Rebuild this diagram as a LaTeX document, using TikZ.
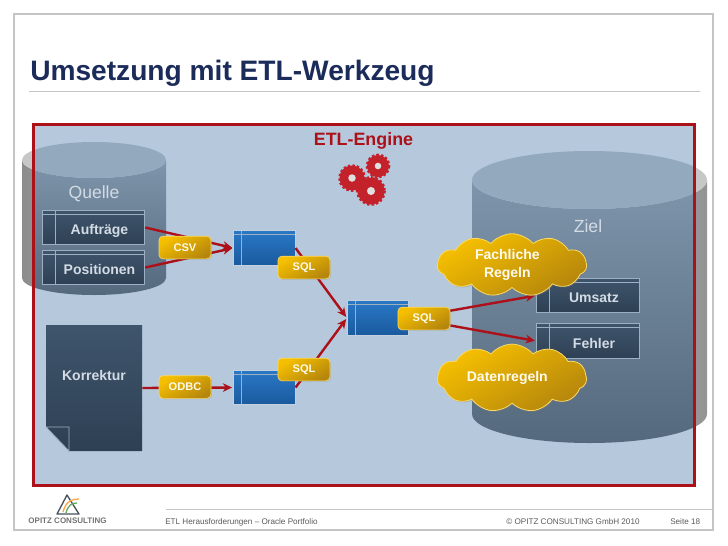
\documentclass[tikz,border=0pt]{standalone}
\usepackage{fontspec}
\setmainfont{Liberation Sans}
\usetikzlibrary{arrows.meta,positioning,shadows,shapes.symbols}
\definecolor{navy}{HTML}{1C2C5A}
\definecolor{rulegray}{HTML}{C4C4C4}
\definecolor{panelblue}{HTML}{B5C8DC}
\definecolor{enginered}{HTML}{AC1019}
\definecolor{gearred}{HTML}{C4222A}
\definecolor{sidetop}{HTML}{7E95AB}
\definecolor{sidebottom}{HTML}{55697D}
\definecolor{lidblue}{HTML}{93A9BD}
\definecolor{tabletop}{HTML}{3F556C}
\definecolor{tablebottom}{HTML}{2E4053}
\definecolor{tableline}{HTML}{9DB0C3}
\definecolor{tabletext}{HTML}{D3DBE5}
\definecolor{bluetop}{HTML}{2A78C6}
\definecolor{bluebottom}{HTML}{1A5A9E}
\definecolor{goldtop}{HTML}{F6C000}
\definecolor{goldbottom}{HTML}{B5860C}
\newcommand{\tablelabel}[1]{\hspace*{9pt}\raisebox{-5.6pt}[0pt][0pt]{#1}}
\newcommand{\quellepath}{(22,160) -- (22,278) arc[start angle=180,end angle=0,x radius=72,y radius=17] -- (166,160) arc[start angle=0,end angle=180,x radius=72,y radius=18] -- cycle}
\newcommand{\zielpath}{(472,180) -- (472,414) arc[start angle=180,end angle=0,x radius=117.5,y radius=29] -- (707,180) arc[start angle=0,end angle=180,x radius=117.5,y radius=29] -- cycle}
\tikzset{
	tablelines/.style={path picture={
		\draw[tableline,line width=.6pt] ([yshift=-3pt]path picture bounding box.north west) -- ([yshift=-3pt]path picture bounding box.north east);
		\draw[tableline,line width=.6pt] ([xshift=#1]path picture bounding box.north west) -- ([xshift=#1]path picture bounding box.south west);
	}},
	darktable/.style={draw=tableline,line width=.6pt,top color=tabletop,bottom color=tablebottom,minimum width=77pt,minimum height=26pt,inner sep=0pt,text=tabletext,font=\fontsize{10.5}{12}\selectfont\bfseries,tablelines=9.75pt},
	bluetable/.style={draw=tableline!60!white,line width=.6pt,top color=bluetop,bottom color=bluebottom,minimum width=46pt,minimum height=26pt,inner sep=0pt,tablelines=5.8pt},
	badge/.style={draw=goldtop!60!white,line width=.5pt,rounded corners=3pt,top color=goldtop,bottom color=goldbottom,shading angle=30,minimum width=39pt,minimum height=17pt,inner sep=0pt,text=white!92!goldtop,font=\fontsize{8.3}{10}\selectfont\bfseries,drop shadow={shadow xshift=.6pt,shadow yshift=-.6pt,opacity=.35}},
	rulecloud/.style={cloud,cloud puffs=11,cloud puff arc=100,aspect=2.4,draw=goldtop!60!white,line width=.6pt,top color=goldtop,bottom color=goldbottom,shading angle=30,minimum width=112pt,minimum height=47pt,inner sep=0pt,align=center,text=white!94!goldtop,font=\fontsize{10.5}{13}\selectfont\bfseries,drop shadow={shadow xshift=.8pt,shadow yshift=-.8pt,opacity=.35}},
	flow/.style={draw=enginered,line width=1.8pt,-{Stealth[length=7pt,width=6.5pt]},shorten >=1pt},
	dbname/.style={text=tabletext,font=\fontsize{13.2}{15}\selectfont},
	footer/.style={text=black!65,anchor=base west,inner sep=0pt,font=\fontsize{6.1}{7}\selectfont}
}
\begin{document}
\begin{tikzpicture}[x=.75pt,y=-.75pt]
	\useasboundingbox (0,0) rectangle (728,546);
	\draw[rulegray,line width=.8pt] (14,14) rectangle (713,530);
	\node[anchor=base west,inner sep=0pt,text=navy,font=\fontsize{21.1}{25}\selectfont\bfseries] (title) at (30,80) {Umsetzung mit ETL-Werkzeug};
	\draw[rulegray,line width=.7pt] (29,91) -- (700,91);
	
	% grey part of the cylinders outside the panel
	\shade[left color=black!45,right color=black!25] \quellepath;
	\fill[black!22] (94,160) ellipse [x radius=72,y radius=18];
	\shade[left color=black!25,right color=black!42] \zielpath;
	\fill[black!22] (589.5,180) ellipse [x radius=117.5,y radius=29];
	
	\node[fill=panelblue,minimum width=495pt,minimum height=270pt,inner sep=0pt,drop shadow={shadow xshift=1pt,shadow yshift=-1pt,opacity=.25}] (engine) at (364,305) {};
	\begin{scope}
		\clip (engine.south west) rectangle (engine.north east);
		\shade[top color=sidetop,bottom color=sidebottom] \quellepath;
		\fill[lidblue] (94,160) ellipse [x radius=72,y radius=18];
		\shade[top color=sidetop,bottom color=sidebottom] \zielpath;
		\fill[lidblue] (589.5,180) ellipse [x radius=117.5,y radius=29];
	\end{scope}
	\draw[enginered,line width=2.2pt] (engine.south west) rectangle (engine.north east);
	
	\node[text=enginered,font=\fontsize{13.4}{15}\selectfont\bfseries] (etl) at (363.5,141) {ETL-Engine};
	\foreach \gx/\gy/\gr in {378/166/11,352/178/12.5,371/191/13.5} {
		\draw[gearred,line width=2pt,dash pattern=on 1.8pt off 1.6pt] (\gx,\gy) circle [radius=\gr];
		\fill[gearred] (\gx,\gy) circle [radius=\gr];
		\fill[black!12] (\gx,\gy) circle [radius=.3*\gr];
	}
	
	\node[dbname] (quelle) at (94,194) {Quelle};
	\node[dbname] (ziel) at (588,226) {Ziel};
	
	\node[darktable] (auftraege) at (93.5,227.5) {\tablelabel{Aufträge}};
	\node[darktable] (positionen) at (93.5,267.5) {\tablelabel{Positionen}};
	\node[darktable] (umsatz) at (588,295.5) {\tablelabel{Umsatz}};
	\node[darktable] (fehler) at (588,341) {\tablelabel{Fehler}};
	
	\shade[top color=tabletop,bottom color=tablebottom] (46,325) -- (142,325) -- (142,451) -- (69,451) -- (46,427) -- cycle;
	\draw[tableline,line width=.6pt] (46,427) -- (69,427) -- (69,451) -- (46,427);
	\node[minimum width=72pt,minimum height=94.5pt,inner sep=0pt,text=tabletext,font=\fontsize{10.5}{12}\selectfont\bfseries] (korrektur) at (94,388) {\raisebox{6pt}[0pt][0pt]{Korrektur}};
	
	\node[bluetable] (stagea) at (264.5,248) {};
	\node[bluetable] (stageb) at (264.5,387.5) {};
	\node[bluetable] (stagec) at (378,318) {};
	
	\draw[flow] (auftraege.east) -- (stagea.west);
	\draw[flow] (positionen.east) -- (stagea.west);
	\draw[flow] (korrektur.east) -- (stageb.west);
	\draw[flow] (stagea.east) -- (stagec.west);
	\draw[flow] (stageb.east) -- (stagec.west);
	\draw[flow] (stagec.east) -- (umsatz.west);
	\draw[flow] (stagec.east) -- (fehler.west);
	
	\node[badge] (csv) at (185,247.5) {CSV};
	\node[badge] (odbc) at (185,387) {ODBC};
	\node[badge] (sqla) at (304,267.5) {SQL};
	\node[badge] (sqlb) at (304,369.5) {SQL};
	\node[badge] (sqlc) at (424,318.5) {SQL};
	
	\node[rulecloud] (fachlich) at (512,265) {Fachliche\hspace*{7pt}\\Regeln\hspace*{7pt}};
	\node[rulecloud] (datenregeln) at (512,378) {Datenregeln\hspace*{7pt}};
	
	% footer
	\draw[rulegray,line width=.7pt] (166,509) -- (713,509);
	\node[footer] (fuss) at (165,524) {ETL Herausforderungen -- Oracle Portfolio};
	\node[footer] (copy) at (506,524) {© OPITZ CONSULTING GmbH 2010};
	\node[footer] (seite) at (670,524) {Seite 18};
	\draw[black!55!cyan!60!black,line width=1pt,line join=round] (67,495) -- (57,514) -- (79,514) -- cycle;
	\draw[orange!70!white,line width=1pt] (63,512) .. controls (66,501) and (72,499) .. (79,499);
	\draw[green!45!black!60,line width=1pt] (66,513) .. controls (68,505) and (72,503) .. (77,503);
	\node[text=black!55,inner sep=0pt,font=\fontsize{6}{7}\selectfont\bfseries] (logo) at (67.5,520.5) {OPITZ CONSULTING};
\end{tikzpicture}
\end{document}
